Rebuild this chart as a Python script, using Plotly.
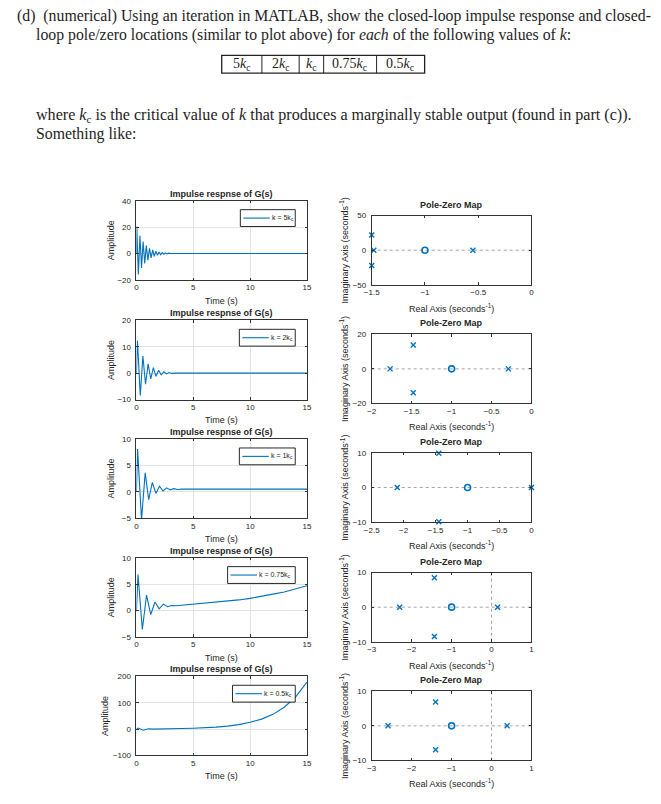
import plotly.graph_objects as go

W, H = 661, 804

# ---------------- data ----------------
k_names = ["5k<sub>c</sub>", "2k<sub>c</sub>", "1k<sub>c</sub>", "0.75k<sub>c</sub>", "0.5k<sub>c</sub>"]
table_labels = ["5<i>k</i><sub>c</sub>", "2<i>k</i><sub>c</sub>", "<i>k</i><sub>c</sub>",
                "0.75<i>k</i><sub>c</sub>", "0.5<i>k</i><sub>c</sub>"]

# impulse responses (peaks / troughs and trend points)
t_5kc = [0, 0.03, 0.17, 0.31, 0.45, 0.59, 0.73, 0.87, 1.01, 1.15, 1.29, 1.43, 1.57, 1.71,
         1.85, 1.99, 2.13, 2.27, 2.41, 2.55, 2.69, 2.83, 3.0, 3.5, 15]
y_5kc = [0, 20.5, -16, 13.5, -11, 9, -7.5, 6, -5, 4, -3.3, 2.7, -2.2, 1.8,
         -1.4, 1.1, -0.9, 0.7, -0.55, 0.45, -0.35, 0.25, 0, 0, 0]

t_2kc = [0, 0.09, 0.34, 0.57, 0.8, 1.03, 1.26, 1.49, 1.72, 1.95, 2.18, 2.41, 2.64, 2.87,
         3.1, 3.5, 15]
y_2kc = [0, 12.3, -8.5, 6.5, -4.2, 3.5, -2.2, 2.1, -1.2, 1.1, -0.6, 0.55, -0.3, 0.25,
         -0.1, 0, 0]

t_1kc = [0, 0.1, 0.45, 0.77, 1.08, 1.4, 1.71, 2.03, 2.34, 2.66, 2.97, 3.29, 3.6, 4.0, 15]
y_1kc = [0, 8.1, -5.3, 3.6, -1.5, 1.8, -0.3, 1.05, 0.15, 0.75, 0.35, 0.6, 0.45, 0.5, 0.5]

t_075kc = [0, 0.14, 0.52, 0.89, 1.26, 1.63, 2.0, 2.37, 2.74, 3.1, 3.5, 4, 5, 6, 7, 8, 9,
           10, 11, 12, 13, 14, 15]
y_075kc = [0, 6.8, -3.6, 2.9, -0.8, 1.6, 0.3, 1.2, 0.7, 0.95, 0.9, 1.0, 1.1, 1.3, 1.5,
           1.7, 2.0, 2.3, 2.65, 3.1, 3.5, 4.1, 4.7]

t_05kc = [0, 0.15, 0.6, 1.05, 1.5, 2, 3, 4, 5, 6, 7, 8, 9, 10, 11, 12, 13, 14, 15]
y_05kc = [0, 4, -4, 1.5, 0, 1, 1.2, 2.3, 3.5, 5.2, 7.7, 11.4, 17, 26, 38, 56, 83, 122, 178]

# closed-loop poles and zero
pole_re = [[-1.5, -1.48, -1.5, -0.55],
           [-1.77, -1.48, -1.48, -0.29],
           [-2.1, -1.45, -1.45, 0.0],
           [-2.3, -1.43, -1.43, 0.15],
           [-2.59, -1.4, -1.4, 0.39]]
pole_im = [[22, 0, -22, 0],
           [0, 13.8, -13.8, 0],
           [0, 9.9, -9.9, 0],
           [0, 8.5, -8.5, 0],
           [0, 6.9, -6.9, 0]]
zero_re = [-1.0]
zero_im = [0.0]

imp_t = [t_5kc, t_2kc, t_1kc, t_075kc, t_05kc]
imp_y = [y_5kc, y_2kc, y_1kc, y_075kc, y_05kc]

left_yrange = [[-20, 40], [-10, 20], [-5, 10], [-5, 10], [-100, 200]]
left_dtick = [20, 10, 5, 5, 100]
right_xrange = [[-1.5, 0], [-2, 0], [-2.5, 0], [-3, 1], [-3, 1]]
right_xdtick = [0.5, 0.5, 0.5, 1, 1]
right_yrange = [[-50, 50], [-20, 20], [-10, 10], [-10, 10], [-10, 10]]
right_ydtick = [50, 20, 10, 10, 10]

# ---------------- layout helpers ----------------
def px(x):
    return x / W

def py(y):
    return 1 - y / H

BLUE = "#0072BD"
AX = "#333333"
SANS = "Liberation Sans"
SERIF = "Liberation Serif"

left_x = (131, 305)
left_y = [(199, 279), (320, 400), (440, 520), (560, 640), (680, 760)]
right_x = (371, 534)
right_y = [(214, 284), (334, 404), (454, 524), (575, 645), (695, 765)]
legend_left = [237, 236, 236, 224, 229]
legend_right = 293

fig = go.Figure()
layout = dict(width=W, height=H, margin=dict(l=0, r=0, t=0, b=0),
              paper_bgcolor="white", plot_bgcolor="white", showlegend=False)
annotations = []
shapes = []

def ax_common():
    return dict(showline=True, mirror="ticks", linecolor=AX, linewidth=0.7,
                ticks="inside", ticklen=2.5, tickcolor=AX, tickwidth=0.7,
                zeroline=False, tickfont=dict(family=SANS, size=8, color="#262626"))

def ann(text, x, y, size=9, bold=False, angle=0, xanchor="center", family=SANS, color="#262626"):
    if bold:
        text = "<b>" + text + "</b>"
    annotations.append(dict(text=text, x=px(x), y=py(y), xref="paper", yref="paper",
                            showarrow=False, xanchor=xanchor, yanchor="middle",
                            textangle=angle, borderpad=0,
                            font=dict(family=family, size=size, color=color)))

for i in range(5):
    n = i + 1
    xa = "x" if n == 1 else f"x{n}"
    ya = "y" if n == 1 else f"y{n}"
    y0, y1 = left_y[i]
    xaxis = ax_common()
    xaxis.update(domain=[px(left_x[0]), px(left_x[1])], range=[0, 15], dtick=5,
                 showgrid=True, gridcolor="#e3e3e3", gridwidth=0.7, anchor=ya)
    yaxis = ax_common()
    yaxis.update(domain=[py(y1), py(y0)], range=left_yrange[i], dtick=left_dtick[i],
                 showgrid=True, gridcolor="#e3e3e3", gridwidth=0.7, anchor=xa,
                 ticklabelstandoff=3)
    layout["xaxis" if n == 1 else f"xaxis{n}"] = xaxis
    layout["yaxis" if n == 1 else f"yaxis{n}"] = yaxis
    fig.add_trace(go.Scatter(x=imp_t[i], y=imp_y[i], mode="lines",
                             line=dict(color=BLUE, width=1.1),
                             name="k = " + k_names[i], xaxis=xa, yaxis=ya))
    # legend box (drawn like MATLAB's)
    lt, lb = y0 + 9, y0 + 26
    ll = legend_left[i]
    shapes.append(dict(type="rect", xref="paper", yref="paper", x0=px(ll), x1=px(legend_right),
                       y0=py(lb), y1=py(lt), fillcolor="white",
                       line=dict(color="#111111", width=0.9), layer="above"))
    shapes.append(dict(type="line", xref="paper", yref="paper", x0=px(ll + 3), x1=px(ll + 30),
                       y0=py((lt + lb) / 2), y1=py((lt + lb) / 2),
                       line=dict(color=BLUE, width=1.1), layer="above"))
    ann("k = " + k_names[i], ll + 31, (lt + lb) / 2, size=7, xanchor="left")
    cx = (left_x[0] + left_x[1]) / 2
    ann("Impulse respnse of G(s)", cx, y0 - 7, size=9, bold=True)
    ann("Time (s)", cx, y1 + 21, size=9)
    ann("Amplitude", 105 if i < 4 else 99, (y0 + y1) / 2, size=9, angle=-90)

for i in range(5):
    n = i + 6
    xa = f"x{n}"
    ya = f"y{n}"
    y0, y1 = right_y[i]
    xaxis = ax_common()
    xaxis.update(domain=[px(right_x[0]), px(right_x[1])], range=right_xrange[i],
                 dtick=right_xdtick[i], showgrid=False, anchor=ya)
    yaxis = ax_common()
    yaxis.update(domain=[py(y1), py(y0)], range=right_yrange[i],
                 dtick=right_ydtick[i], showgrid=False, anchor=xa, ticklabelstandoff=3)
    layout[f"xaxis{n}"] = xaxis
    layout[f"yaxis{n}"] = yaxis
    # dotted reference lines
    shapes.append(dict(type="line", xref=f"{xa} domain", yref=ya, x0=0, x1=1, y0=0, y1=0,
                       line=dict(color="#8c8c8c", width=0.8, dash="dot"), layer="below"))
    shapes.append(dict(type="line", xref=xa, yref=f"{ya} domain", x0=0, x1=0, y0=0, y1=1,
                       line=dict(color="#8c8c8c", width=0.8, dash="dot"), layer="below"))
    fig.add_trace(go.Scatter(x=pole_re[i], y=pole_im[i], mode="markers",
                             marker=dict(symbol="x-thin-open", size=5, color=BLUE,
                                         line=dict(color=BLUE, width=1.4)),
                             cliponaxis=False, xaxis=xa, yaxis=ya))
    fig.add_trace(go.Scatter(x=zero_re, y=zero_im, mode="markers",
                             marker=dict(symbol="circle-open", size=6, color=BLUE,
                                         line=dict(color=BLUE, width=1.6)),
                             cliponaxis=False, xaxis=xa, yaxis=ya))
    cx = (right_x[0] + right_x[1]) / 2
    ann("Pole-Zero Map", cx, y0 - 11, size=9, bold=True)
    ann("Real Axis (seconds<sup>-1</sup>)", cx, y1 + 23, size=9)
    ann("Imaginary Axis (seconds<sup>-1</sup>)", 343, (y0 + y1) / 2, size=9, angle=-90)

# ---------------- page text ----------------
TXT = "#1e1e1e"
ann("(d)  (numerical) Using an iteration in MATLAB, show the closed-loop impulse response and closed-",
    8, 12, size=15.8, xanchor="left", family=SERIF, color=TXT)
ann("loop pole/zero locations (similar to plot above) for <i>each</i> of the following values of <i>k</i>:",
    28, 31, size=15.8, xanchor="left", family=SERIF, color=TXT)
ann("where <i>k</i><sub>c</sub> is the critical value of <i>k</i> that produces a marginally stable output (found in part (c)).",
    28, 113, size=16.1, xanchor="left", family=SERIF, color=TXT)
ann("Something like:", 28, 131, size=15.8, xanchor="left", family=SERIF, color=TXT)

# table of k values
cell_edges = [218, 259, 297, 322, 376, 425]
tb_top, tb_bot = 52, 70
shapes.append(dict(type="rect", xref="paper", yref="paper", x0=px(cell_edges[0]), x1=px(cell_edges[-1]),
                   y0=py(tb_bot), y1=py(tb_top), line=dict(color="#222222", width=1.3)))
for e in cell_edges[1:-1]:
    shapes.append(dict(type="line", xref="paper", yref="paper", x0=px(e), x1=px(e),
                       y0=py(tb_bot), y1=py(tb_top), line=dict(color="#222222", width=1)))
for j, lab in enumerate(table_labels):
    ann(lab, (cell_edges[j] + cell_edges[j + 1]) / 2, (tb_top + tb_bot) / 2, size=14,
        family=SERIF, color=TXT)

layout["annotations"] = annotations
layout["shapes"] = shapes
fig.update_layout(**layout)
fig.write_html("out.html", config={"displayModeBar": False},
               post_script="document.body.style.margin='0px';")
